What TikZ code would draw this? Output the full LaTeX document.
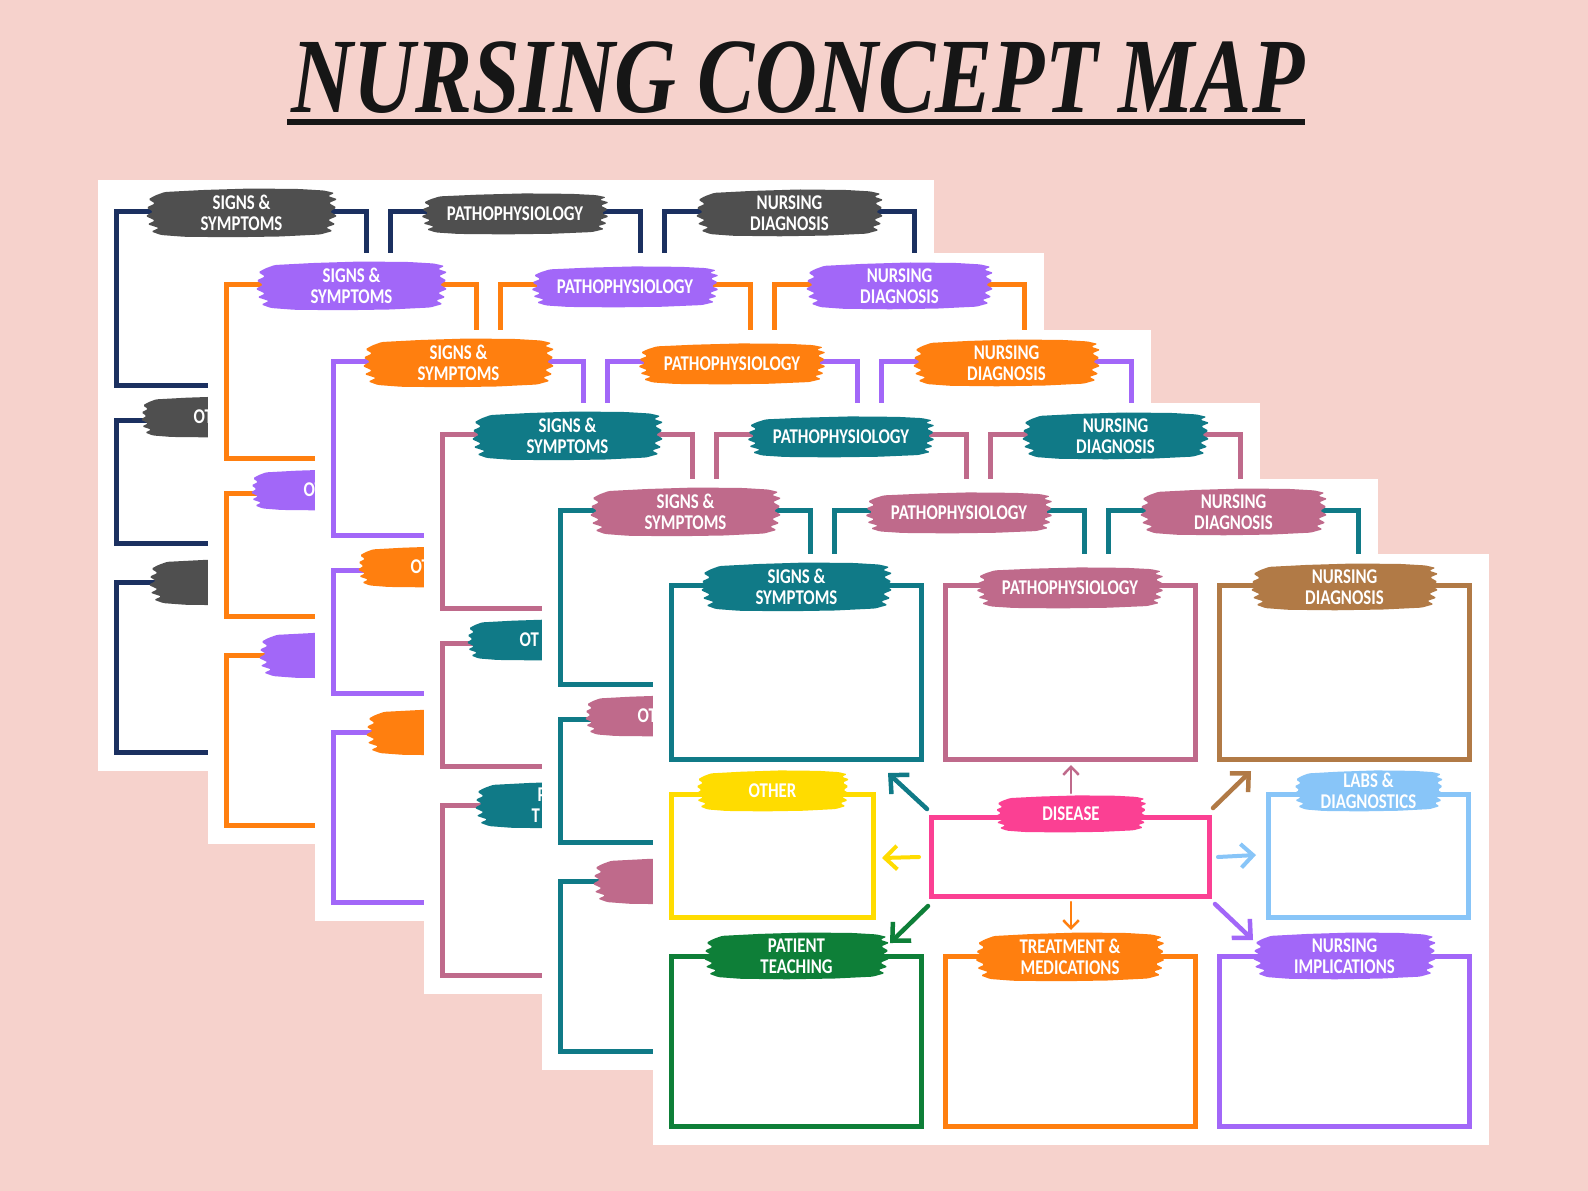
\documentclass[tikz,border=0pt]{standalone}
\usepackage{fontspec}
\setmainfont{Liberation Sans}
\newfontfamily\tagfont[FakeStretch=0.8]{Carlito}
\newfontfamily\titlefont[FakeStretch=0.8]{Liberation Serif}
\usetikzlibrary{arrows.meta,calc}

\definecolor{cBlush}{HTML}{F6D2CC}
\definecolor{cInk}{HTML}{161616}
\definecolor{cNavy}{HTML}{1B3060}
\definecolor{cSlate}{HTML}{4F4F4F}
\definecolor{cOrange}{HTML}{FF7F0F}
\definecolor{cPurple}{HTML}{A267F8}
\definecolor{cTeal}{HTML}{107A87}
\definecolor{cMauve}{HTML}{BF6A8B}
\definecolor{cBrown}{HTML}{B17A46}
\definecolor{cYellow}{HTML}{FFDC00}
\definecolor{cPink}{HTML}{FB4093}
\definecolor{cSky}{HTML}{88C5F8}
\definecolor{cGreen}{HTML}{0E7F38}

\tikzset{
  mapbox/.style={draw=#1, line width=5pt, minimum width=250pt, inner sep=0pt, outer sep=0pt},
  tag/.style={text=white, font=\tagfont\bfseries\fontsize{21}{21}\selectfont, align=center, inner sep=0pt},
  maparrow/.style={line cap=round, -{Straight Barb[length=1pt 2.8, width=2pt 5.4]}}
}

% brush stroke behind a tag: [colour](centre)(half width:half height)
\def\brush[#1](#2)(#3:#4){\fill[#1, shift={(#2)}, xscale=#3, yscale=#4, rounded corners=1.5pt]
  (-0.90,-0.70) -- (-0.80,-0.84) -- (-0.40,-0.92) -- (0.10,-0.98) -- (0.60,-0.96) -- (0.86,-0.90)
  -- (0.97,-0.80) -- (0.90,-0.68) -- (1.00,-0.55) -- (0.91,-0.40) -- (0.99,-0.22) -- (0.92,-0.05)
  -- (1.00,0.12) -- (0.90,0.28) -- (0.98,0.45) -- (0.88,0.58) -- (0.95,0.72) -- (0.82,0.86)
  -- (0.40,0.94) -- (-0.10,0.97) -- (-0.60,0.95) -- (-0.84,0.88) -- (-0.94,0.74) -- (-0.86,0.60)
  -- (-0.98,0.45) -- (-0.90,0.30) -- (-1.00,0.12) -- (-0.92,-0.05) -- (-0.99,-0.22) -- (-0.90,-0.38)
  -- (-0.97,-0.55) -- cycle;}

% one colour for every frame, one for every tag
\newcommand\pagecolors[2]{%
  \colorlet{fss}{#1}\colorlet{fpa}{#1}\colorlet{fnd}{#1}\colorlet{fot}{#1}\colorlet{fdis}{#1}%
  \colorlet{flb}{#1}\colorlet{fpt}{#1}\colorlet{ftm}{#1}\colorlet{fni}{#1}%
  \colorlet{bss}{#2}\colorlet{bpa}{#2}\colorlet{bnd}{#2}\colorlet{bot}{#2}\colorlet{bdis}{#2}%
  \colorlet{blb}{#2}\colorlet{bpt}{#2}\colorlet{btm}{#2}\colorlet{bni}{#2}}
\newcommand\boxcolor[2]{\colorlet{f#1}{#2}\colorlet{b#1}{#2}}

% one sheet of the map, #1 = name, (#2,#3) = top left corner
\newcommand\conceptpage[3]{%
\begin{scope}[shift={(#2,#3)}]
  \fill[white] (0,0) rectangle (836,591);

  \node[mapbox=fss, minimum height=174pt] (#1-ss) at (143.5,118.5) {};
  \node[mapbox=fpa, minimum height=174pt] (#1-pa) at (417,118.5) {};
  \node[mapbox=fnd, minimum height=174pt] (#1-nd) at (691.5,118.5) {};
  \node[mapbox=fot, minimum width=202pt, minimum height=123pt] (#1-ot) at (119.5,302) {};
  \node[mapbox=fdis, minimum width=278pt, minimum height=79pt] (#1-dis) at (417.5,303) {};
  \node[mapbox=flb, minimum width=200pt, minimum height=123pt] (#1-lb) at (715.5,302) {};
  \node[mapbox=fpt, minimum height=170pt] (#1-pt) at (143.5,487.5) {};
  \node[mapbox=ftm, minimum height=170pt] (#1-tm) at (417,487.5) {};
  \node[mapbox=fni, minimum height=170pt] (#1-ni) at (691.5,487.5) {};

  \brush[bss](143.5,33)(96:25)
  \brush[bpa](417,34)(94:21)
  \brush[bnd](691.5,33)(94:24)
  \brush[bot](119.5,237)(77:21)
  \brush[bdis](418,260)(76:19)
  \brush[blb](715.5,237)(75:21)
  \brush[bpt](143.5,402)(93:24)
  \brush[btm](417,403)(95:25)
  \brush[bni](691.5,402)(92:24)

  \node[tag] (#1-ss-tag) at (143.5,33) {SIGNS \&\\SYMPTOMS};
  \node[tag] (#1-pa-tag) at (417,34) {PATHOPHYSIOLOGY};
  \node[tag] (#1-nd-tag) at (691.5,33) {NURSING\\DIAGNOSIS};

  % arrows out of the disease box
  \foreach \k/\ax/\ay/\bx/\by/\w in {ss/274/255/235/219/4.5, pa/418/239/418/211/2.5,
      nd/560/254/598/217/4.5, ot/266/303/229/304/4, lb/565/303/603/301/4,
      pt/275/352/237/389/4.5, tm/418/348/418/376/2.5, ni/562/350/600/386/4.5}{
    \coordinate (#1-\k-from) at (\ax,\ay);
    \coordinate (#1-\k-to) at (\bx,\by);
    \draw[maparrow, line width=\w pt, color=f\k] (#1-\k-from) -- (#1-\k-to);
  }
\end{scope}}

% tags of the lower rows, only where a sheet shows them
\newcommand\lowertags[3]{%
\begin{scope}[shift={(#2,#3)}]
  \node[tag] (#1-ot-tag) at (119.5,237) {OTHER};
  \node[tag] (#1-dis-tag) at (418,260) {DISEASE};
  \node[tag] (#1-lb-tag) at (715.5,237) {LABS \&\\DIAGNOSTICS};
  \node[tag] (#1-pt-tag) at (143.5,402) {PATIENT\\TEACHING};
  \node[tag] (#1-tm-tag) at (417,403) {TREATMENT \&\\MEDICATIONS};
  \node[tag] (#1-ni-tag) at (691.5,402) {NURSING\\IMPLICATIONS};
\end{scope}}
\newcommand\stubtag[3]{%
  \node[tag, anchor=west] (#1-ot-tag) at ($(#2,#3)+(95.5,237)$) {OT};}

\begin{document}
\begin{tikzpicture}[x=1pt,y=-1pt]
  \fill[cBlush] (0,0) rectangle (1588,1191);
  \useasboundingbox (0,0) rectangle (1588,1191);

  \node[font=\titlefont\bfseries\itshape\fontsize{107}{110}\selectfont, text=cInk, inner sep=0pt, anchor=base] (title) at (798,112) {NURSING CONCEPT MAP};
  \draw[cInk, line width=5.5pt] ($(title.base west)+(-4,10)$) -- ($(title.base east)+(0,10)$);

  \pagecolors{cNavy}{cSlate}
  \conceptpage{one}{98}{180}
  \stubtag{one}{98}{180}
  \pagecolors{cOrange}{cPurple}
  \conceptpage{two}{208}{253}
  \stubtag{two}{208}{253}
  \pagecolors{cPurple}{cOrange}
  \conceptpage{three}{315}{330}
  \stubtag{three}{315}{330}
  \pagecolors{cMauve}{cTeal}
  \conceptpage{four}{424}{403}
  \stubtag{four}{424}{403}
  \node[tag, anchor=west] (four-pt-tag) at (537.5,795) {P};
  \node[tag, anchor=west] (four-pt-tag2) at (531.5,816) {T};
  \pagecolors{cTeal}{cMauve}
  \conceptpage{five}{542}{479}
  \stubtag{five}{542}{479}

  \boxcolor{ss}{cTeal}\boxcolor{pa}{cMauve}\boxcolor{nd}{cBrown}
  \boxcolor{ot}{cYellow}\boxcolor{dis}{cPink}\boxcolor{lb}{cSky}
  \boxcolor{pt}{cGreen}\boxcolor{tm}{cOrange}\boxcolor{ni}{cPurple}
  \conceptpage{six}{653}{554}
  \lowertags{six}{653}{554}
\end{tikzpicture}
\end{document}
